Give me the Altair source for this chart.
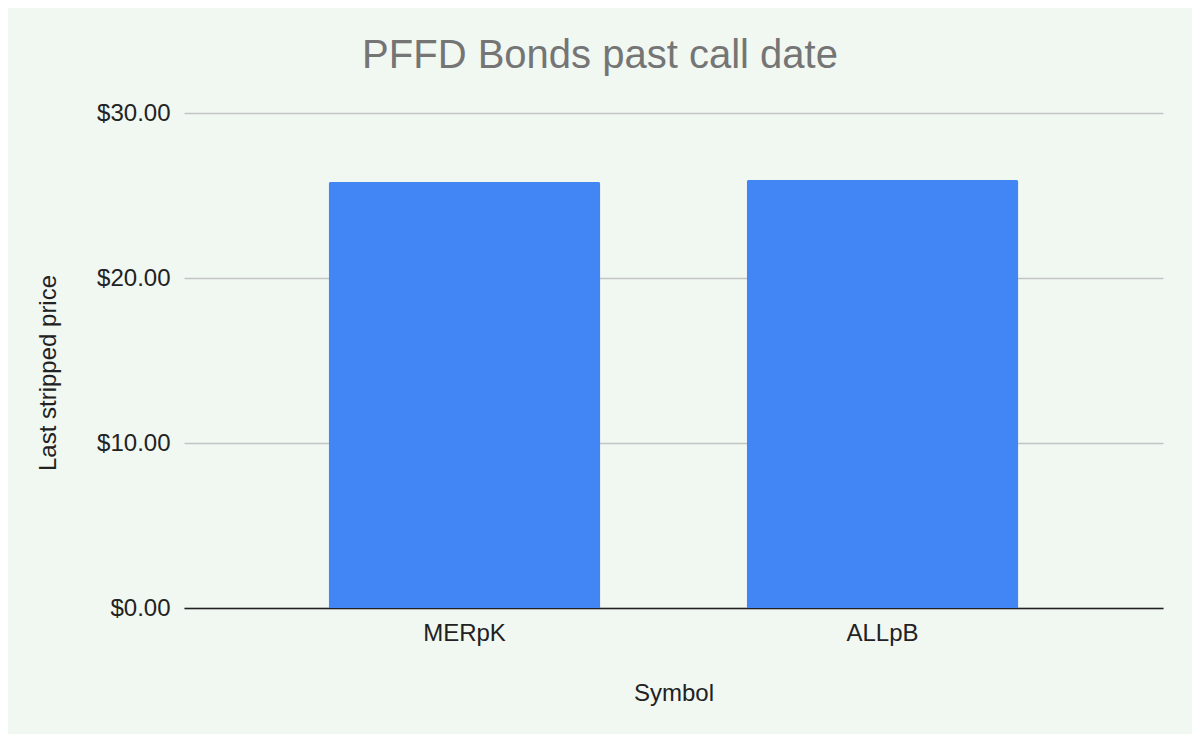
import altair as alt
import pandas as pd

symbols = ["MERpK", "ALLpB"]
prices = [25.82, 25.94]

df = pd.DataFrame({"Symbol": symbols, "Price": prices})

FONT = "Liberation Sans"
BG = "#f1f8f2"

chart = alt.Chart(df).mark_bar(
    color="#4285f4", cornerRadiusTopLeft=2, cornerRadiusTopRight=2
).encode(
    x=alt.X("Symbol:N", sort=symbols,
            scale=alt.Scale(paddingInner=0.35, paddingOuter=0.346),
            axis=alt.Axis(title="Symbol", labelAngle=0, tickSize=0, ticks=False,
                          labelPadding=13, labelFontSize=24, labelFont=FONT,
                          labelColor="#222222", domainColor="#222222", domainWidth=1.3,
                          titleFontSize=24, titleFont=FONT, titleFontWeight="normal",
                          titleColor="#222222", titleBaseline="alphabetic",
                          titleY=92, grid=False)),
    y=alt.Y("Price:Q", scale=alt.Scale(domain=[0, 30]),
            axis=alt.Axis(title="Last stripped price", values=[0, 10, 20, 30],
                          format="$,.2f", ticks=False, domain=False,
                          labelPadding=14, labelFontSize=24, labelFont=FONT,
                          labelColor="#222222", gridColor="#c3c3c3", gridWidth=1.3,
                          titleFontSize=24, titleFont=FONT, titleFontWeight="normal",
                          titleColor="#222222", titleAngle=-90, titleAlign="center",
                          titleBaseline="alphabetic", titleX=-129, titleY=259.5)),
).properties(
    width=979, height=495,
    background=BG,
    padding={"left": 176, "top": 105, "right": 29, "bottom": 126},
    autosize=alt.AutoSizeParams(type="none"),
    title=alt.TitleParams("PFFD Bonds past call date", font=FONT, fontSize=40,
                          fontWeight="normal", color="#757575", anchor="middle",
                          frame="group", baseline="alphabetic", offset=-7, dx=-73.5),
).configure_view(stroke=None)

chart.save("out.html", embed_options={"renderer": "svg", "actions": False})
